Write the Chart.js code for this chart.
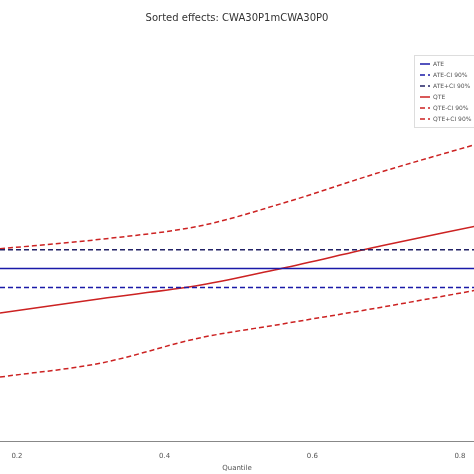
<!DOCTYPE html>
<html><head><meta charset="utf-8">
<script src="https://cdn.jsdelivr.net/npm/chart.js@4"></script>
<style>html,body{margin:0;background:#fff}#c{width:474px;height:474px}</style>
</head><body><div id="c"><canvas id="chart" width="474" height="474"></canvas></div>
<script>
const quantiles = [0.177, 0.313, 0.449, 0.558, 0.694, 0.822];
const ate = -0.091;
const ateLower = -0.147;
const ateUpper = -0.036;
const qte = [-0.222, -0.180, -0.140, -0.091, -0.024, 0.034];
const qteLower = [-0.411, -0.370, -0.295, -0.255, -0.205, -0.155];
const qteUpper = [-0.033, -0.005, 0.035, 0.100, 0.194, 0.275];
const xTicks = [0.2, 0.4, 0.6, 0.8];

const pts = (ys) => quantiles.map((q, i) => ({ x: q, y: Array.isArray(ys) ? ys[i] : ys }));
const blue = "#1a1aa8", red = "#cc2222";
const ds = (label, data, color, dash) => ({
  label, data: pts(data), borderColor: color, borderWidth: 1.5,
  borderDash: dash ? [5, 3] : [], pointRadius: 0, cubicInterpolationMode: "monotone", fill: false
});

const legendBox = {
  id: "legendBox",
  afterDraw(chart) {
    const c = chart.ctx;
    c.save();
    c.fillStyle = "#fff"; c.strokeStyle = "#ddd";
    c.fillRect(414, 55, 60, 72); c.strokeRect(414.5, 55.5, 60, 72);
    c.font = "6px 'DejaVu Sans'"; c.textBaseline = "middle";
    chart.data.datasets.forEach((d, i) => {
      const y = 64 + i * 11;
      c.strokeStyle = d.borderColor; c.lineWidth = 1.5;
      c.setLineDash(d.borderDash);
      c.beginPath(); c.moveTo(420, y); c.lineTo(430, y); c.stroke();
      c.fillStyle = "#555"; c.fillText(d.label, 433, y);
    });
    c.restore();
  }
};

new Chart(document.getElementById("chart"), {
  type: "line",
  data: { datasets: [
    ds("ATE", ate, blue, false),
    ds("ATE-CI 90%", ateLower, blue, true),
    ds("ATE+CI 90%", ateUpper, "#222266", true),
    ds("QTE", qte, red, false),
    ds("QTE-CI 90%", qteLower, red, true),
    ds("QTE+CI 90%", qteUpper, red, true)
  ]},
  options: {
    responsive: false, animation: false,
    plugins: {
      legend: { display: false },
      title: { display: true, text: "Sorted effects: CWA30P1mCWA30P0", color: "#333",
        font: { family: "DejaVu Sans", size: 10, weight: "normal" }, padding: { top: 12, bottom: 10 } }
    },
    scales: {
      x: { type: "linear", min: 0.177, max: 0.819,
        afterBuildTicks: (s) => { s.ticks = xTicks.map(v => ({ value: v })); },
        grid: { display: false, drawTicks: true },
        border: { color: "#888" },
        ticks: { color: "#555", font: { family: "DejaVu Sans", size: 7 }, callback: v => v.toFixed(1) },
        title: { display: true, text: "Quantile", color: "#555", font: { family: "DejaVu Sans", size: 7 }, padding: { top: 0, bottom: 2 } } },
      y: { display: false, min: -0.6, max: 0.6 }
    }
  },
  plugins: [legendBox]
});
</script></body></html>
